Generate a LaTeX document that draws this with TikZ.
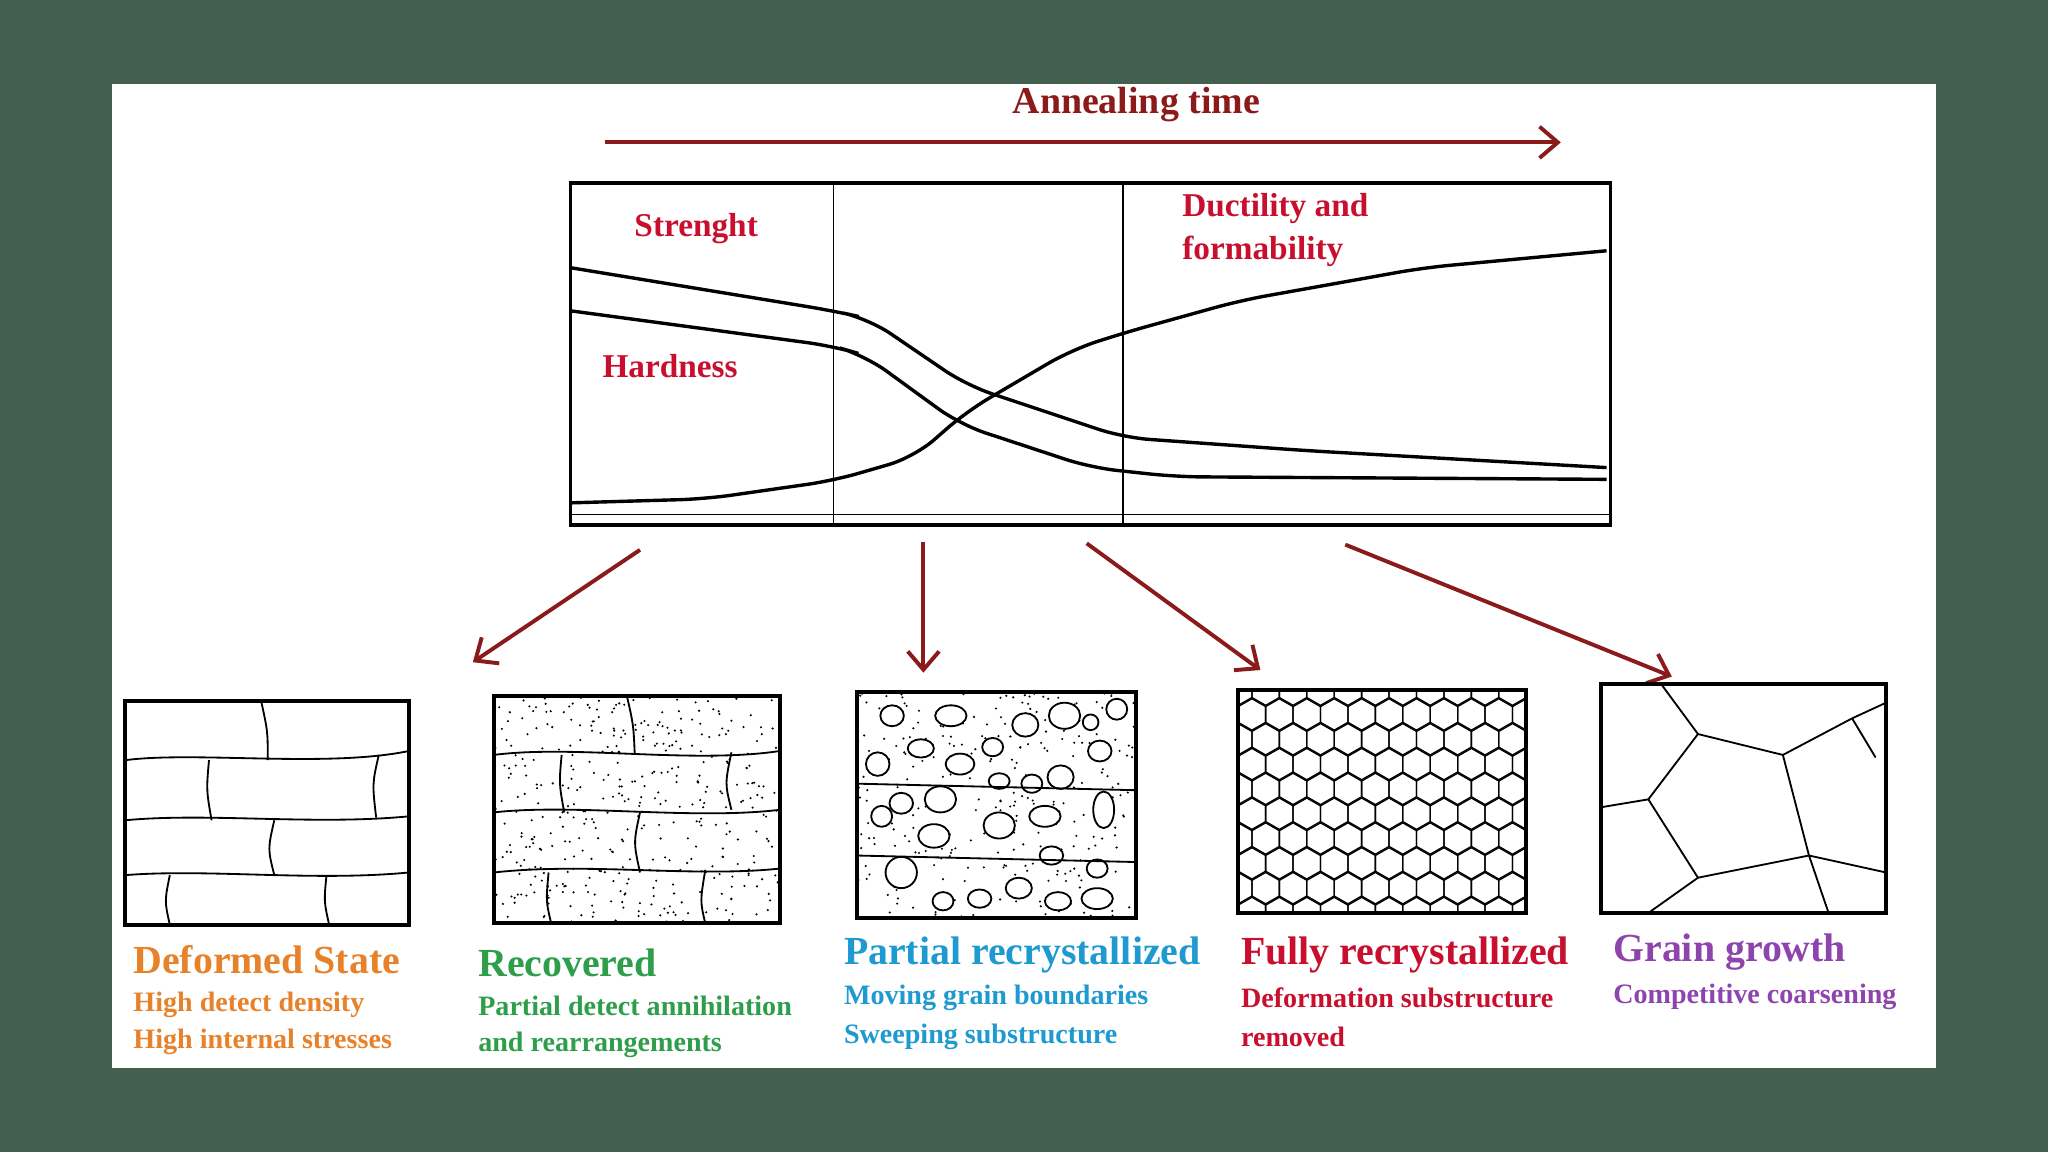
\documentclass[tikz,border=0pt]{standalone}
\usepackage{fontspec}
\setmainfont{Liberation Serif}
\usetikzlibrary{arrows.meta}
\definecolor{bg}{HTML}{43604F}
\definecolor{dred}{HTML}{8B1A1A}
\definecolor{cred}{HTML}{C8102E}
\definecolor{corange}{HTML}{E8822A}
\definecolor{cgreen}{HTML}{2E9E4A}
\definecolor{cblue}{HTML}{1E9AD0}
\definecolor{cpurple}{HTML}{8E44AD}
\tikzset{
 big/.style={font=\fontsize{30.5}{32}\selectfont\bfseries,anchor=west,inner sep=0pt},
 small/.style={font=\fontsize{21.5}{24}\selectfont\bfseries,anchor=west,inner sep=0pt},
 clab/.style={font=\fontsize{25.5}{33}\selectfont\bfseries,text=cred,inner sep=0pt},
 arr/.style={draw=dred,line width=3pt,-{Straight Barb[length=14pt,width=24pt,line width=3pt]}},
 box/.style={draw,line width=3pt},
 grain/.style={line width=1.4pt},
 curve/.style={line width=2.6pt,rounded corners=20pt}
}
\begin{document}
\begin{tikzpicture}[x=1pt,y=-1pt]
\fill[bg] (0,0) rectangle (1568,882);
\useasboundingbox (0,0) rectangle (1568,882);
\fill[white] (86,64) rectangle (1482,818);
% annealing arrow
\node[font=\fontsize{29}{30}\selectfont\bfseries,text=dred] (at) at (870,80) {Annealing time};
\coordinate (a1) at (463,109); \coordinate (a2) at (1195,109);
\draw[arr] (a1) -- (a2);
% chart
\draw[line width=2.6pt] (437,140) rectangle (1233,402);
\draw[line width=1.2pt] (638,140) -- (638,402) (860,140) -- (860,402);
\draw[line width=1.2pt] (437,394) -- (1233,394);
\node[clab] (s) at (533,175) {Strenght};
\node[clab] (h) at (513,280) {Hardness};
\node[clab,align=left,anchor=north west] (d) at (905,148) {Ductility and\\formability};
\draw[curve] (437,205) -- (638,238) -- (665,244) -- (740,295) -- (860,335) -- (1000,345) -- (1230,358);
\draw[curve] (437,238) -- (638,265) -- (662,272) -- (735,325) -- (835,358) -- (900,365) -- (1230,367);
\draw[curve] (437,385) -- (540,382) -- (638,368) -- (700,350) -- (740,315) -- (820,268) -- (860,255) -- (950,230) -- (1090,205) -- (1230,192);
% arrows down
\coordinate (p1) at (490,421); \coordinate (q1) at (362,507);
\coordinate (p2) at (707,415); \coordinate (q2) at (707,515);
\coordinate (p3) at (832,416); \coordinate (q3) at (965,513);
\coordinate (p4) at (1030,417); \coordinate (q4) at (1280,518);
\draw[arr] (p1) -- (q1); \draw[arr] (p2) -- (q2);
\draw[arr] (p3) -- (q3); \draw[arr] (p4) -- (q4);
% box 1 deformed
\begin{scope}
\clip (96,537) rectangle (313,708);
\draw[grain] (96,582) .. controls (150,575) and (250,588) .. (313,575);
\draw[grain] (96,628) .. controls (160,622) and (240,632) .. (313,625);
\draw[grain] (96,670) .. controls (160,665) and (240,675) .. (313,668);
\draw[grain] (200,537) .. controls (205,560) .. (205,582);
\draw[grain] (160,582) .. controls (158,605) .. (162,628);
\draw[grain] (290,578) .. controls (285,600) .. (288,626);
\draw[grain] (210,628) .. controls (205,650) .. (210,670);
\draw[grain] (130,670) .. controls (126,690) .. (130,708);
\draw[grain] (250,670) .. controls (248,690) .. (252,708);
\end{scope}
\draw[box] (96,537) rectangle (313,708);
% box 2 recovered
\begin{scope}
\clip (378,533) rectangle (597,707);
\draw[grain] (378,578) .. controls (440,570) and (530,585) .. (597,575);
\draw[grain] (378,622) .. controls (440,615) and (530,628) .. (597,620);
\draw[grain] (378,668) .. controls (450,660) and (530,672) .. (597,665);
\draw[grain] (480,533) .. controls (485,555) .. (486,578);
\draw[grain] (430,578) .. controls (428,600) .. (432,622);
\draw[grain] (560,576) .. controls (555,600) .. (560,620);
\draw[grain] (490,622) .. controls (485,645) .. (490,668);
\draw[grain] (420,668) .. controls (418,690) .. (422,707);
\draw[grain] (540,666) .. controls (536,690) .. (540,707);
\pgfmathsetseed{7}
\foreach \i in {1,...,420}{
 \pgfmathsetmacro\rx{378+219*rnd}\pgfmathsetmacro\ry{533+174*rnd}
 \fill (\rx,\ry) circle (0.9pt);}
\end{scope}
\draw[box] (378,533) rectangle (597,707);
% box 3 partial
\begin{scope}
\clip (656,530) rectangle (870,703);
\pgfmathsetseed{11}
\foreach \i in {1,...,300}{
 \pgfmathsetmacro\rx{656+214*rnd}\pgfmathsetmacro\ry{530+173*rnd}
 \fill (\rx,\ry) circle (0.9pt);}
\foreach \x/\y/\a/\b in {683/548/9/8,728/548/12/8,785/555/10/9,815/548/12/10,855/543/8/8,
 672/585/9/9,705/573/10/7,735/585/11/8,760/572/8/7,790/600/8/7,812/595/10/9,842/575/9/8,
 690/615/9/8,720/612/12/10,765/598/8/6,800/625/12/8,845/620/8/14,
 675/625/8/8,715/640/12/9,765/632/12/10,805/655/9/7,840/665/8/7,
 690/668/12/12,722/690/8/7,750/688/9/7,780/680/10/8,810/690/10/7,840/688/12/8,835/553/6/6}
 {\draw[grain,fill=white] (\x,\y) ellipse ({\a pt} and {\b pt});}
\draw[grain] (656,600) -- (870,605) (656,655) -- (870,660);
\end{scope}
\draw[box] (656,530) rectangle (870,703);
% box 4 fully
\begin{scope}
\clip (948,528) rectangle (1168,699);
\foreach \j in {0,...,9}{
 \foreach \i in {0,...,11}{
  \pgfmathsetmacro\cx{948+\i*21+mod(\j,2)*10.5}
  \pgfmathsetmacro\cy{528+\j*19}
  \draw[line width=1pt] (\cx,\cy-12) -- (\cx+10.5,\cy-6) -- (\cx+10.5,\cy+6) -- (\cx,\cy+12) -- (\cx-10.5,\cy+6) -- (\cx-10.5,\cy-6) -- cycle;}}
\end{scope}
\draw[box] (948,528) rectangle (1168,699);
% box 5 grain growth
\begin{scope}
\clip (1226,524) rectangle (1444,699);
\coordinate (g1) at (1262,612); \coordinate (g2) at (1300,562);
\coordinate (g3) at (1365,578); \coordinate (g4) at (1385,655);
\coordinate (g5) at (1300,672);
\draw[grain] (g1) -- (g2) -- (g3) -- (g4) -- (g5) -- cycle;
\draw[grain] (g1) -- (1226,618) (g2) -- (1272,524) (g3) -- (1418,550) -- (1444,538)
 (1418,550) -- (1436,580) (g4) -- (1444,668) (g4) -- (1400,699) (g5) -- (1262,699);
\end{scope}
\draw[box] (1226,524) rectangle (1444,699);
% labels
\node[big,text=corange] (l1) at (102,735) {Deformed State};
\node[small,text=corange] (l1a) at (102,769) {High detect density};
\node[small,text=corange] (l1b) at (102,798) {High internal stresses};
\node[big,text=cgreen] (l2) at (366,737) {Recovered};
\node[small,text=cgreen] (l2a) at (366,770) {Partial detect annihilation};
\node[small,text=cgreen] (l2b) at (366,800) {and rearrangements};
\node[big,text=cblue] (l3) at (646,731) {Partial recrystallized};
\node[small,text=cblue] (l3a) at (646,764) {Moving grain boundaries};
\node[small,text=cblue] (l3b) at (646,794) {Sweeping substructure};
\node[big,text=cred] (l4) at (950,731) {Fully recrystallized};
\node[small,text=cred] (l4a) at (950,764) {Deformation substructure};
\node[small,text=cred] (l4b) at (950,794) {removed};
\node[big,text=cpurple] (l5) at (1235,729) {Grain growth};
\node[small,text=cpurple] (l5a) at (1235,763) {Competitive coarsening};
\end{tikzpicture}
\end{document}
